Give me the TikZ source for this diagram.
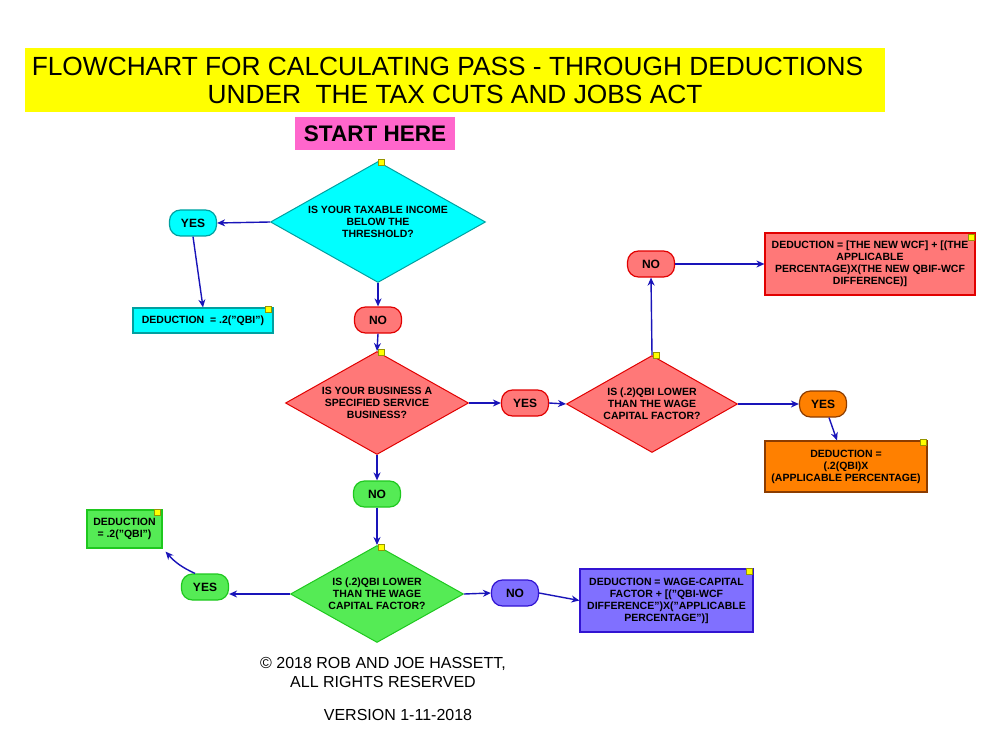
\documentclass[tikz,border=0pt]{standalone}
\usepackage{fontspec}
\setmainfont{Liberation Sans}
\usetikzlibrary{shapes.geometric,arrows.meta}
\definecolor{titleyellow}{RGB}{255,255,0}
\definecolor{startpink}{RGB}{255,102,204}
\definecolor{cyanfill}{RGB}{0,255,255}
\definecolor{cyanline}{RGB}{0,160,160}
\definecolor{redfill}{RGB}{255,120,120}
\definecolor{redline}{RGB}{225,0,0}
\definecolor{orangefill}{RGB}{255,128,0}
\definecolor{orangeline}{RGB}{140,60,0}
\definecolor{greenfill}{RGB}{85,235,85}
\definecolor{greenline}{RGB}{30,200,30}
\definecolor{purplefill}{RGB}{128,112,255}
\definecolor{purpleline}{RGB}{50,20,210}
\definecolor{arrowblue}{RGB}{25,20,185}
\definecolor{handlefill}{RGB}{255,255,0}
\definecolor{handleline}{RGB}{150,150,0}
\tikzset{
  yn/.style={rectangle, rounded corners=11pt, minimum width=47pt, minimum height=26pt,
    draw, line width=1.2pt, inner sep=0pt, font=\bfseries\fontsize{12}{14}\selectfont},
  dec/.style={diamond, draw, line width=1pt, inner sep=0pt, align=center,
    font=\bfseries\fontsize{10.5}{12}\selectfont},
  dbox/.style={rectangle, draw, line width=1.2pt, inner sep=1pt, align=center,
    font=\bfseries\fontsize{10.5}{12}\selectfont},
  handle/.style={rectangle, fill=handlefill, draw=handleline, line width=0.5pt,
    minimum size=6pt, inner sep=0pt},
  arr/.style={draw=arrowblue, line width=1.4pt, -{Stealth[length=8pt,width=7pt]}},
  footer/.style={font=\fontsize{16}{19}\selectfont, align=center, inner sep=0pt}
}
\begin{document}
\begin{tikzpicture}[x=1pt,y=-1pt]
\useasboundingbox[fill=white] (0,0) rectangle (1000,735);

% title
\node[fill=titleyellow, minimum width=860pt, minimum height=64pt, inner sep=0pt,
  align=center, font=\fontsize{26.3}{28}\selectfont] (title) at (455,80)
  {FLOWCHART FOR CALCULATING PASS - THROUGH DEDUCTIONS\hspace*{15pt}\\UNDER\ \ THE TAX CUTS AND JOBS ACT};
\node[fill=startpink, minimum width=160pt, minimum height=33pt, inner sep=0pt,
  font=\bfseries\fontsize{22.5}{25}\selectfont] (start) at (375,133.5) {START HERE};

% decisions
\node[dec, fill=cyanfill, draw=cyanline, minimum width=215pt, minimum height=121pt, aspect=1.78]
  (d1) at (378,222) {IS YOUR TAXABLE INCOME\\BELOW THE\\THRESHOLD?};
\node[dec, fill=redfill, draw=redline, minimum width=183pt, minimum height=103pt, aspect=1.78]
  (d2) at (377,403) {IS YOUR BUSINESS A\\SPECIFIED SERVICE\\BUSINESS?};
\node[dec, fill=redfill, draw=redline, minimum width=171pt, minimum height=97pt, aspect=1.76]
  (d3) at (652,404) {IS (.2)QBI LOWER\\THAN THE WAGE\\CAPITAL FACTOR?};
\node[dec, fill=greenfill, draw=greenline, minimum width=173pt, minimum height=97pt, aspect=1.78]
  (d4) at (377,594) {IS (.2)QBI LOWER\\THAN THE WAGE\\CAPITAL FACTOR?};

% yes / no
\node[yn, fill=cyanfill, draw=cyanline] (yes1) at (193,223) {YES};
\node[yn, fill=redfill, draw=redline] (no1) at (378,320) {NO};
\node[yn, fill=redfill, draw=redline] (yes2) at (525,403) {YES};
\node[yn, fill=redfill, draw=redline] (no2) at (651,264) {NO};
\node[yn, fill=orangefill, draw=orangeline] (yes3) at (823,404) {YES};
\node[yn, fill=greenfill, draw=greenline] (no3) at (377,494) {NO};
\node[yn, fill=greenfill, draw=greenline] (yes4) at (205,587) {YES};
\node[yn, fill=purplefill, draw=purpleline] (no4) at (515,593) {NO};

% deduction boxes
\node[dbox, fill=cyanfill, draw=cyanline, minimum width=140pt, minimum height=25pt]
  (cbox) at (203,320.5) {DEDUCTION\ \ = .2("QBI")};
\node[dbox, fill=redfill, draw=redline, minimum width=210pt, minimum height=62pt]
  (rbox) at (870,264) {DEDUCTION = [THE NEW WCF] + [(THE\\APPLICABLE\\PERCENTAGE)X(THE NEW QBIF-WCF\\DIFFERENCE)]};
\node[dbox, fill=orangefill, draw=orangeline, minimum width=162pt, minimum height=51pt]
  (obox) at (846,466.5) {DEDUCTION =\\(.2(QBI)X\\(APPLICABLE PERCENTAGE)};
\node[dbox, fill=greenfill, draw=greenline, minimum width=75pt, minimum height=38pt]
  (gbox) at (124.5,529) {DEDUCTION\\= .2("QBI")};
\node[dbox, fill=purplefill, draw=purpleline, minimum width=173pt, minimum height=63pt]
  (pbox) at (666.5,600.5) {DEDUCTION = WAGE-CAPITAL\\FACTOR + [("QBI-WCF\\DIFFERENCE")X("APPLICABLE\\PERCENTAGE")]};

% handles
\node[handle] (h1) at (381,162) {};
\node[handle] (h2) at (268,309) {};
\node[handle] (h3) at (381,352) {};
\node[handle] (h4) at (656,355) {};
\node[handle] (h5) at (971,237) {};
\node[handle] (h6) at (923,442) {};
\node[handle] (h7) at (381,547) {};
\node[handle] (h8) at (157,512) {};
\node[handle] (h9) at (749,571) {};

% connectors
\draw[arr] (d1.west) -- (yes1.east);
\draw[arr] (yes1.south) -- (cbox.north);
\draw[arr] (d1.south) -- (no1.north);
\draw[arr] (no1.south) -- (d2.north);
\draw[arr] (d2.east) -- (yes2.west);
\draw[arr] (yes2.east) -- (d3.west);
\draw[arr] (d3.north) -- (no2.south);
\draw[arr] (no2.east) -- (rbox.west);
\draw[arr] (d3.east) -- (yes3.west);
\draw[arr] ([xshift=6pt]yes3.south) -- ([xshift=-9pt]obox.north);
\draw[arr] (d2.south) -- (no3.north);
\draw[arr] (no3.south) -- (d4.north);
\draw[arr] (d4.west) -- (d4.west -| yes4.east);
\draw[arr] ([xshift=-10pt]yes4.north) to[bend left=12] ([xshift=3pt,yshift=-3pt]gbox.south east);
\draw[arr] (d4.east) -- (no4.west);
\draw[arr] (no4.east) -- (pbox.west);

% footer
\node[footer] (copy) at (383,672) {\textcopyright{} 2018 ROB AND JOE HASSETT,\\ALL RIGHTS RESERVED};
\node[footer] (version) at (398,715) {VERSION 1-11-2018};
\end{tikzpicture}
\end{document}
